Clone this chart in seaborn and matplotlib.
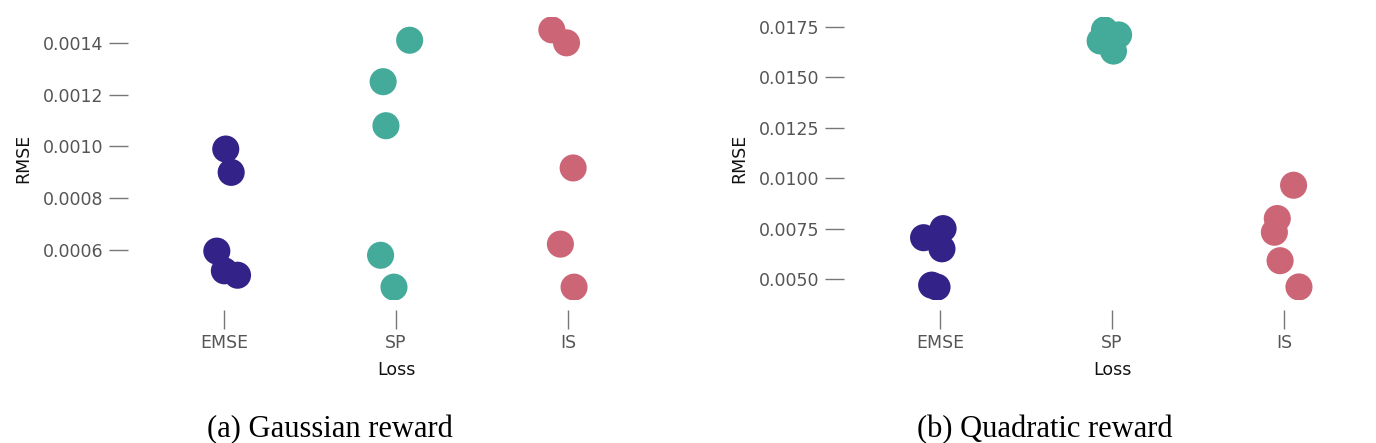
import numpy as np
import pandas as pd
import matplotlib
matplotlib.use("Agg")
import matplotlib.pyplot as plt
import seaborn as sns

# values
losses = ["EMSE", "SP", "IS"]
palette = ["#332288", "#44AA99", "#CC6677"]

gauss_emse = [0.00099, 0.00090, 0.000596, 0.00052, 0.000503]
gauss_sp = [0.00141, 0.00125, 0.00108, 0.00058, 0.000457]
gauss_is = [0.00145, 0.00140, 0.000917, 0.000623, 0.000457]

quad_emse = [0.0075, 0.00705, 0.0065, 0.0047, 0.0046]
quad_sp = [0.01735, 0.0171, 0.0170, 0.0168, 0.0163]
quad_is = [0.00965, 0.0080, 0.00732, 0.00591, 0.00461]

captions = ["(a) Gaussian reward", "(b) Quadratic reward"]


def to_frame(emse, sp, is_):
    rows = []
    for name, vals in zip(losses, [emse, sp, is_]):
        for v in vals:
            rows.append({"Loss": name, "RMSE": v})
    return pd.DataFrame(rows)


df_gauss = to_frame(gauss_emse, gauss_sp, gauss_is)
df_quad = to_frame(quad_emse, quad_sp, quad_is)

sns.set_theme(style="white")
plt.rcParams["font.family"] = ["DejaVu Sans"]

fig = plt.figure(figsize=(13.76, 4.43), dpi=100)
ax1 = fig.add_axes([0.1003, 0.3228, 0.375, 0.6388])
ax2 = fig.add_axes([0.6206, 0.3228, 0.375, 0.6388])

np.random.seed(3)
for ax, df, cap, cx in zip([ax1, ax2], [df_gauss, df_quad], captions, [0.24, 0.759]):
    sns.stripplot(data=df, x="Loss", y="RMSE", hue="Loss", palette=palette,
                  order=losses, size=19.5, linewidth=0, jitter=True,
                  legend=False, ax=ax)
    for s in ax.spines.values():
        s.set_visible(False)
    ax.spines["left"].set_position(("outward", 7.2))
    ax.spines["bottom"].set_position(("outward", 7.2))
    ax.tick_params(axis="both", which="major", direction="out", length=13.5,
                   width=1.0, color="#777777", labelcolor="#555555",
                   labelsize=12.5, pad=4, left=True, bottom=True)
    ax.set_xlabel("Loss", fontsize=12.5, color="#111111", labelpad=6)
    ax.set_ylabel("RMSE", fontsize=12.5, color="#111111", labelpad=8)
    fig.text(cx, 0.0135, cap, ha="center", va="baseline", fontsize=22,
             family=["Liberation Serif", "DejaVu Serif"], color="black")

ax1.set_yticks([0.0006, 0.0008, 0.0010, 0.0012, 0.0014])
ax1.set_yticklabels(["0.0006", "0.0008", "0.0010", "0.0012", "0.0014"])
ax2.set_yticks([0.0050, 0.0075, 0.0100, 0.0125, 0.0150, 0.0175])
ax2.set_yticklabels(["0.0050", "0.0075", "0.0100", "0.0125", "0.0150", "0.0175"])

fig.savefig("out.png", dpi=100)
